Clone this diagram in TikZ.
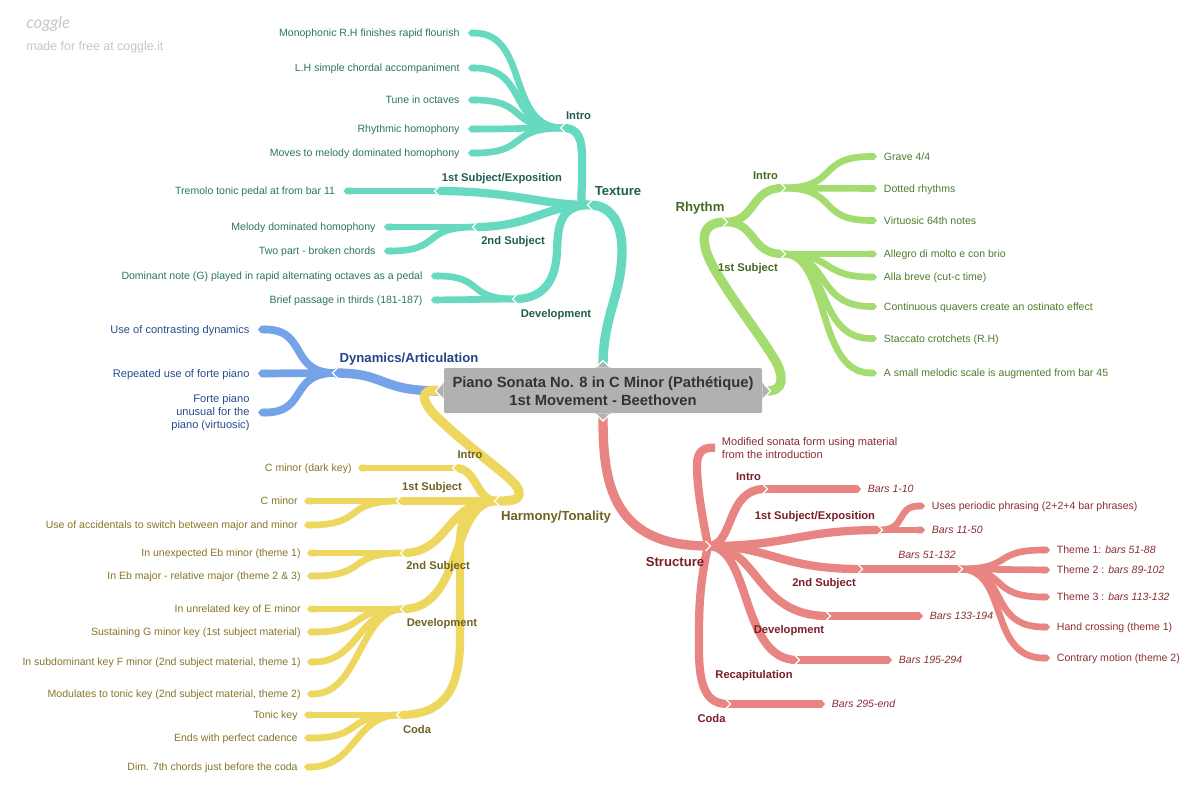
\documentclass[tikz,border=0pt]{standalone}
\usepackage{fontspec}
\setmainfont{Liberation Sans}
\newfontfamily\cogglefont{Lato}
\usetikzlibrary{arrows.meta,calc,positioning}
\pgfdeclarelayer{lines}
\pgfsetlayers{lines,main}
\definecolor{tealL}{HTML}{66D9C0}\definecolor{tealT}{HTML}{2B7565}\definecolor{tealB}{HTML}{1F5F52}
\definecolor{grnL}{HTML}{A4DC70}\definecolor{grnT}{HTML}{527A2C}\definecolor{grnB}{HTML}{456B22}
\definecolor{bluL}{HTML}{74A3E8}\definecolor{bluT}{HTML}{284C8E}\definecolor{bluB}{HTML}{234689}
\definecolor{yelL}{HTML}{EDD75E}\definecolor{yelT}{HTML}{877628}\definecolor{yelB}{HTML}{6F6222}
\definecolor{redL}{HTML}{E88582}\definecolor{redT}{HTML}{8A2E36}\definecolor{redB}{HTML}{7A1F27}
\definecolor{rootgray}{HTML}{B1B1B1}\definecolor{rootink}{HTML}{333333}
\tikzset{
  leafbase/.style={inner ysep=0pt,outer sep=0pt,text height=7pt,text depth=1.4pt,font=\fontsize{7.9}{9.75}\selectfont},
  leafL/.style={leafbase,anchor=east,inner xsep=6.4pt,align=right},
  leafR/.style={leafbase,anchor=west,inner xsep=5.2pt,align=left},
  leafY/.style={leafL,inner xsep=4.8pt,text=yelT},
  leafB/.style={leafL,text=bluT,font=\fontsize{8.3}{9.75}\selectfont},
  multi/.style={text height=,text depth=},
  sublabel/.style={inner sep=0pt,yshift=-.7pt,font=\fontsize{8.4}{10}\selectfont\bfseries},
  mainlabel/.style={inner sep=0pt,yshift=-.7pt,font=\fontsize{9.85}{12}\selectfont\bfseries},
  wA/.style={line width=7pt,line cap=butt},
  wB/.style={line width=6.2pt,line cap=butt},
  wC/.style={line width=5pt,line cap=butt,-{Triangle Cap[cap angle=100]}},
  wS/.style={line width=5.8pt,line cap=butt,-{Triangle Cap[cap angle=100]}},
  chev/.style={draw=white,line width=.9pt,line join=miter},
  rootbox/.style={fill=rootgray,rounded corners=1pt,minimum width=238.5pt,minimum height=33.75pt,inner sep=0pt,align=center,text=rootink},
  roottext/.style={inner sep=0pt,align=center,text=rootink,font=\fontsize{11.08}{13.5}\selectfont\bfseries},
}
% curve with horizontal end tangents: style, from, to, fractions of the run
\newcommand\cv[5]{\draw[#1] let \p1=(#2),\p2=(#3),\n1={\x1+#4*(\x2-\x1)},\n2={\x1+#5*(\x2-\x1)} in (\p1) .. controls (\n1,\y1) and (\n2,\y2) .. (\p2);}
\newcommand\fan[3]{\cv{#1}{#2}{#3}{.6}{.35}}
\newcommand\chevL[1]{\draw[chev] ([shift={(2.5,-5)}]#1) -- ([shift={(-2.5,0)}]#1) -- ([shift={(2.5,5)}]#1);}
\newcommand\chevR[1]{\draw[chev] ([shift={(-2.5,-5)}]#1) -- ([shift={(2.5,0)}]#1) -- ([shift={(-2.5,5)}]#1);}
\begin{document}
\begin{tikzpicture}[x=.75pt,y=-.75pt]
\useasboundingbox (0,0) rectangle (1200,804);
\begin{pgfonlayer}{lines}\fill[white] (0,0) rectangle (1200,804);\end{pgfonlayer}
% watermark
\node[anchor=west,inner sep=0pt,text=black!22,font=\fontsize{12.5}{12}\cogglefont\itshape] (wm1) at (26,24) {coggle};
\node[anchor=west,inner sep=0pt,text=black!22,font=\fontsize{9.3}{11}\selectfont] (wm2) at (26,47.5) {made for free at coggle.it};
% root
\node[rootbox] (root) at (603,390.5) {};
\node[roottext] (rootT) at (603,391.5) {Piano Sonata No. 8 in C Minor (Pathétique)\\1st Movement - Beethoven};
\coordinate (rT) at (603,366); \coordinate (rB) at (603,417);
\coordinate (rL) at (441,391); \coordinate (rR) at (765,391);

% ---------- Texture
\coordinate (tx) at (590,205); \coordinate (txI) at (563,128); \coordinate (tx1) at (437,191);
\coordinate (tx2) at (475,227); \coordinate (txD) at (515,299);
\node[leafL,text=tealT] (ta) at (468,33) {Monophonic R.H finishes rapid flourish};
\node[leafL,text=tealT] (tb) at (468,68) {L.H simple chordal accompaniment};
\node[leafL,text=tealT] (tc) at (468,100) {Tune in octaves};
\node[leafL,text=tealT] (td) at (468,129) {Rhythmic homophony};
\node[leafL,text=tealT] (te) at (468,153) {Moves to melody dominated homophony};
\node[leafL,text=tealT] (tf) at (343.5,191) {Tremolo tonic pedal at from bar 11};
\node[leafL,text=tealT] (tg) at (384,227) {Melody dominated homophony};
\node[leafL,text=tealT] (th) at (384,251) {Two part - broken chords};
\node[leafL,text=tealT] (ti) at (431,276) {Dominant note (G) played in rapid alternating octaves as a pedal};
\node[leafL,text=tealT] (tj) at (431,300) {Brief passage in thirds (181-187)};
\node[mainlabel,text=tealB] (lTex) at (618,190) {Texture};
\node[sublabel,text=tealB] (lTi) at (578.5,115) {Intro};
\node[sublabel,text=tealB] (lT1) at (502,177.5) {1st Subject/Exposition};
\node[sublabel,text=tealB] (lT2) at (513,240.5) {2nd Subject};
\node[sublabel,text=tealB] (lTd) at (556,313.5) {Development};

% ---------- Rhythm
\coordinate (rh) at (725,222); \coordinate (rhI) at (783,188); \coordinate (rh1) at (783,254);
\node[leafR,text=grnT] (ga) at (877,156.5) {Grave 4/4};
\node[leafR,text=grnT] (gb) at (877,188.5) {Dotted rhythms};
\node[leafR,text=grnT] (gc) at (877,220.5) {Virtuosic 64th notes};
\node[leafR,text=grnT] (gd) at (877,254) {Allegro di molto e con brio};
\node[leafR,text=grnT] (ge) at (877,277) {Alla breve (cut-c time)};
\node[leafR,text=grnT] (gf) at (877,306.5) {Continuous quavers create an ostinato effect};
\node[leafR,text=grnT] (gg) at (877,338.5) {Staccato crotchets (R.H)};
\node[leafR,text=grnT] (gh) at (877,373) {A small melodic scale is augmented from bar 45};
\node[mainlabel,text=grnB] (lRh) at (700,207.5) {Rhythm};
\node[sublabel,text=grnB] (lRi) at (765.5,175) {Intro};
\node[sublabel,text=grnB] (lR1) at (748,267.5) {1st Subject};

% ---------- Dynamics
\coordinate (dy) at (335,373);
\node[leafB] (ba) at (258,329.5) {Use of contrasting dynamics};
\node[leafB] (bb) at (258,373.5) {Repeated use of forte piano};
\node[leafB,multi] (bc) at (258,412.5) {Forte piano\\unusual for the\\piano (virtuosic)};
\node[mainlabel,text=bluB] (lDy) at (409,358) {Dynamics/Articulation};

% ---------- Harmony
\coordinate (ha) at (497,501); \coordinate (haI) at (455,468); \coordinate (ha1) at (399,501);
\coordinate (ha2) at (403,553); \coordinate (haD) at (403,609); \coordinate (haC) at (399,715);
\node[leafY] (ya) at (358,468) {C minor (dark key)};
\node[leafY] (yb) at (304,501) {C minor};
\node[leafY] (yc) at (304,525) {Use of accidentals to switch between major and minor};
\node[leafY] (yd) at (307,553) {In unexpected Eb minor (theme 1)};
\node[leafY] (ye) at (307,576) {In Eb major - relative major (theme 2 \& 3)};
\node[leafY] (yf) at (307,609) {In unrelated key of E minor};
\node[leafY] (yg) at (307,632) {Sustaining G minor key (1st subject material)};
\node[leafY] (yh) at (307,662) {In subdominant key F minor (2nd subject material, theme 1)};
\node[leafY] (yi) at (307,694) {Modulates to tonic key (2nd subject material, theme 2)};
\node[leafY] (yj) at (304,715) {Tonic key};
\node[leafY] (yk) at (304,738) {Ends with perfect cadence};
\node[leafY] (yl) at (304,767) {Dim. 7th chords just before the coda};
\node[mainlabel,text=yelB] (lHa) at (556,516) {Harmony/Tonality};
\node[sublabel,text=yelB] (lHi) at (470,454) {Intro};
\node[sublabel,text=yelB] (lH1) at (432,487) {1st Subject};
\node[sublabel,text=yelB] (lH2) at (438,566) {2nd Subject};
\node[sublabel,text=yelB] (lHd) at (442,622.5) {Development};
\node[sublabel,text=yelB] (lHc) at (417,729) {Coda};

% ---------- Structure
\coordinate (st) at (708,546); \coordinate (stI) at (765,489); \coordinate (st1) at (880,530);
\coordinate (st2) at (860,569); \coordinate (st3) at (960,569); \coordinate (stD) at (828,616);
\coordinate (stR) at (797,660); \coordinate (stC) at (728,704);
\node[leafR,multi,text=redT,font=\fontsize{8.3}{9.75}\selectfont] (ra) at (715,447.7) {Modified sonata form using material\\from the introduction};
\node[leafR,text=redT] (rb) at (861,489) {\itshape Bars 1-10};
\node[leafR,text=redT] (rc) at (925,506) {Uses periodic phrasing (2+2+4 bar phrases)};
\node[leafR,text=redT] (rd) at (925,530) {\itshape Bars 11-50};
\node[inner sep=0pt,text=redT,font=\fontsize{7.9}{10}\selectfont\itshape] (re) at (927,554.5) {Bars 51-132};
\node[leafR,text=redT] (rf) at (1050,550) {Theme 1: \itshape bars 51-88};
\node[leafR,text=redT] (rg) at (1050,570) {Theme 2 : \itshape bars 89-102};
\node[leafR,text=redT] (rh0) at (1050,597) {Theme 3 : \itshape bars 113-132};
\node[leafR,text=redT] (ri) at (1050,627) {Hand crossing (theme 1)};
\node[leafR,text=redT] (rj) at (1050,658) {Contrary motion (theme 2)};
\node[leafR,text=redT] (rk) at (923,616) {\itshape Bars 133-194};
\node[leafR,text=redT] (rl) at (892,660) {\itshape Bars 195-294};
\node[leafR,text=redT] (rm) at (825,704) {\itshape Bars 295-end};
\node[mainlabel,text=redB] (lSt) at (675,561) {Structure};
\node[sublabel,text=redB] (lSi) at (748.5,475.5) {Intro};
\node[sublabel,text=redB] (lS1) at (815,516) {1st Subject/Exposition};
\node[sublabel,text=redB] (lS2) at (824,583) {2nd Subject};
\node[sublabel,text=redB] (lSd) at (789,629.5) {Development};
\node[sublabel,text=redB] (lSr) at (754,675) {Recapitulation};
\node[sublabel,text=redB] (lSc) at (711.5,718) {Coda};

\begin{pgfonlayer}{lines}
% Texture connectors
\draw[wA,draw=tealL] (rT) .. controls (603,315) and (622,295) .. (622,250) .. controls (622,222) and (610,205) .. (tx);
\draw[wB,draw=tealL] (tx) .. controls (578,205) and (582,198) .. (582,180) -- (582,158) .. controls (582,138) and (578,128) .. (txI);
\cv{wB,draw=tealL}{tx}{tx1}{.32}{.5}
\cv{wB,draw=tealL}{tx}{tx2}{.4}{.5}
\draw[wB,draw=tealL] (tx) .. controls (560,205) and (558,225) .. (557,250) .. controls (556,285) and (540,299) .. (txD);
\foreach \t in {ta,tb,tc,td,te}{\fan{wC,draw=tealL}{txI}{\t.east}}
\draw[wC,draw=tealL] (tx1) -- (tf.east);
\draw[wC,draw=tealL] (tx2) -- (tg.east);
\fan{wC,draw=tealL}{tx2}{th.east}
\draw[wC,draw=tealL] (txD) -- (tj.east);
\fan{wC,draw=tealL}{txD}{ti.east}
% Rhythm connectors
\draw[wA,draw=grnL] (rR) .. controls (785,392) and (784,376) .. (775,360) .. controls (760,335) and (738,308) .. (718,275) .. controls (700,247) and (697,222) .. (rh);
\cv{wB,draw=grnL}{rh}{rhI}{.55}{.42}
\cv{wB,draw=grnL}{rh}{rh1}{.55}{.42}
\fan{wC,draw=grnL}{rhI}{ga.west}
\draw[wC,draw=grnL] (rhI) -- (gb.west);
\fan{wC,draw=grnL}{rhI}{gc.west}
\draw[wC,draw=grnL] (rh1) -- (gd.west);
\cv{wC,draw=grnL}{rh1}{ge.west}{.55}{.4}
\foreach \g in {gf,gg,gh}{\cv{wC,draw=grnL}{rh1}{\g.west}{.5}{.34}}
% Dynamics connectors
\cv{wA,draw=bluL}{rL}{dy}{.6}{.5}
\fan{wS,draw=bluL}{dy}{ba.east}
\draw[wS,draw=bluL] (dy) -- (bb.east);
\fan{wS,draw=bluL}{dy}{bc.east}
% Harmony connectors
\draw[wA,draw=yelL] (rL) .. controls (418,387) and (420,402) .. (440,420) .. controls (480,458) and (518,480) .. (519,492) .. controls (520,501) and (510,501) .. (ha);
\cv{wB,draw=yelL}{ha}{haI}{.52}{.45}
\draw[wB,draw=yelL] (ha) -- (ha1);
\cv{wB,draw=yelL}{ha}{ha2}{.55}{.5}
\cv{wB,draw=yelL}{ha}{haD}{.5}{.35}
\draw[wB,draw=yelL] (ha) .. controls (468,501) and (460,515) .. (460,545) -- (460,640) .. controls (460,695) and (440,715) .. (haC);
\draw[wC,draw=yelL] (haI) -- (ya.east);
\draw[wC,draw=yelL] (ha1) -- (yb.east);
\fan{wC,draw=yelL}{ha1}{yc.east}
\draw[wC,draw=yelL] (ha2) -- (yd.east);
\fan{wC,draw=yelL}{ha2}{ye.east}
\draw[wC,draw=yelL] (haD) -- (yf.east);
\fan{wC,draw=yelL}{haD}{yg.east}
\cv{wC,draw=yelL}{haD}{yh.east}{.47}{.45}
\cv{wC,draw=yelL}{haD}{yi.east}{.45}{.45}
\draw[wC,draw=yelL] (haC) -- (yj.east);
\fan{wC,draw=yelL}{haC}{yk.east}
\cv{wC,draw=yelL}{haC}{yl.east}{.47}{.45}
% Structure connectors
\draw[wA,draw=redL] (rB) .. controls (603,480) and (610,546) .. (st);
\draw[wB,draw=redL] (st) .. controls (703,520) and (697,490) .. (697,465) .. controls (697,452) and (703,447) .. (ra.west);
\draw[wB,draw=redL] (st) .. controls (698,590) and (699,620) .. (699,650) .. controls (699,690) and (708,704) .. (stC);
\cv{wB,draw=redL}{st}{stI}{.47}{.3}
\cv{wB,draw=redL}{st}{st1}{.48}{.53}
\cv{wB,draw=redL}{st}{st2}{.41}{.47}
\cv{wB,draw=redL}{st}{stD}{.43}{.39}
\cv{wB,draw=redL}{st}{stR}{.49}{.36}
\draw[wS,draw=redL] (stI) -- (rb.west);
\fan{wC,draw=redL}{st1}{rc.west}
\draw[wC,draw=redL] (st1) -- (rd.west);
\draw[wB,draw=redL] (st2) -- (st3);
\fan{wC,draw=redL}{st3}{rf.west}
\draw[wC,draw=redL] (st3) -- (rg.west);
\foreach \r in {rh0,ri,rj}{\cv{wC,draw=redL}{st3}{\r.west}{.55}{.3}}
\draw[wS,draw=redL] (stD) -- (rk.west);
\draw[wS,draw=redL] (stR) -- (rl.west);
\draw[wS,draw=redL] (stC) -- (rm.west);
\end{pgfonlayer}
% root bumps
\fill[rootgray] ([xshift=-6]root.north) -- (603,362) -- ([xshift=6]root.north) -- cycle;
\fill[rootgray] ([xshift=-6]root.south) -- (603,420) -- ([xshift=6]root.south) -- cycle;
\fill[rootgray] ([yshift=-6]root.west) -- (437,391) -- ([yshift=6]root.west) -- cycle;
\fill[rootgray] ([yshift=-6]root.east) -- (769,391) -- ([yshift=6]root.east) -- cycle;
\draw[chev] (596.5,367) -- (603,360.5) -- (609.5,367);
\draw[chev] (596.5,414.5) -- (603,421) -- (609.5,414.5);
\draw[chev] (441.5,384.5) -- (435.5,391) -- (441.5,397.5);
\draw[chev] (764.5,384.5) -- (770.5,391) -- (764.5,397.5);
% chevrons
\chevL{tx}\chevL{txI}\chevL{tx1}\chevL{tx2}\chevL{txD}
\chevR{rh}\chevR{rhI}\chevR{rh1}
\chevL{dy}
\chevL{ha}\chevL{haI}\chevL{ha1}\chevL{ha2}\chevL{haD}\chevL{haC}
\chevR{st}\chevR{stI}\chevR{st1}\chevR{st2}\chevR{st3}\chevR{stD}\chevR{stR}\chevR{stC}
\end{tikzpicture}
\end{document}
